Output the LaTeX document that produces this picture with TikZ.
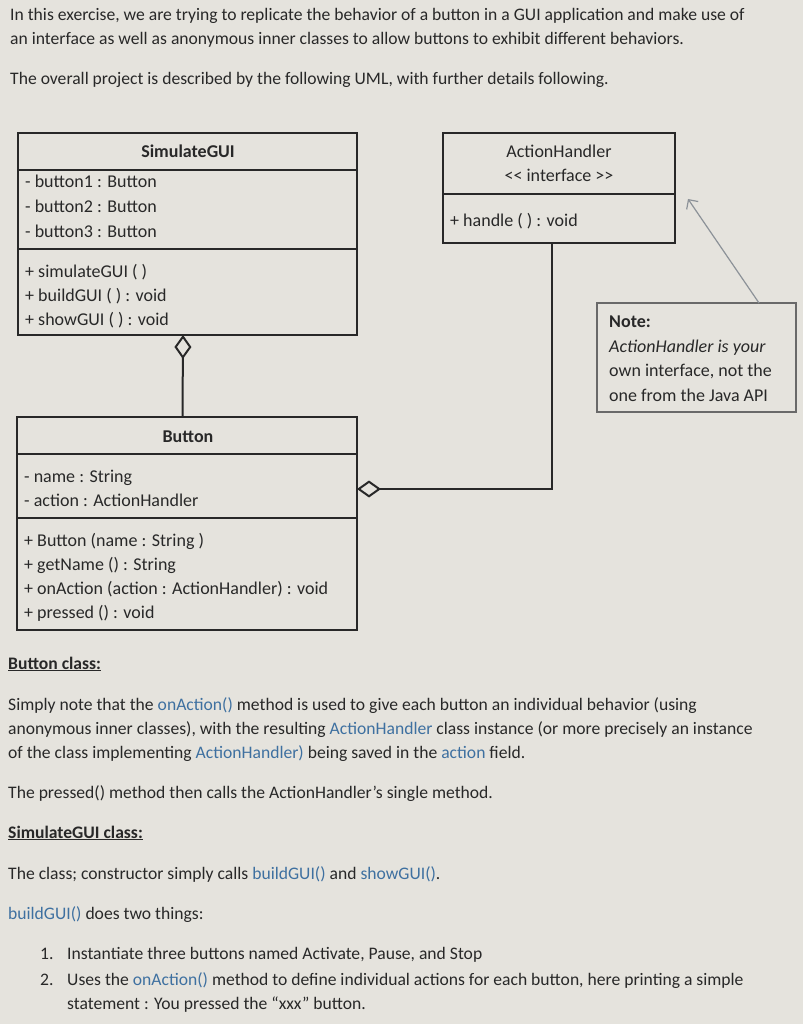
\documentclass[tikz,border=0pt]{standalone}
\usepackage{fontspec}
\setmainfont{Carlito}
\usetikzlibrary{arrows.meta}
\definecolor{bg}{RGB}{229,227,221}
\definecolor{ink}{RGB}{40,40,40}
\definecolor{link}{RGB}{62,112,160}
\definecolor{notegray}{RGB}{105,105,105}
\definecolor{arrowgray}{RGB}{140,146,152}
\begin{document}
\begin{tikzpicture}[x=1pt,y=-1pt,
  txt/.style={anchor=base west, inner sep=0pt, text=ink, font=\fontsize{17.6}{20}\selectfont},
  btxt/.style={txt},
  uml/.style={anchor=base west, inner sep=0pt, text=ink, font=\fontsize{18}{20}\selectfont},
  umlc/.style={uml, anchor=base},
  comp/.style={draw=ink, line width=2pt, rectangle, inner sep=0pt, outer sep=0pt, anchor=north west},
  notebox/.style={draw=notegray, line width=1.2pt, rectangle, inner sep=0pt, outer sep=0pt, anchor=north west},
  link/.style={draw=ink, line width=2pt},
  agg/.style={{Diamond[open,length=24pt,width=17pt,line width=2pt]}-}
]
\fill[bg] (0,0) rectangle (803,1024);
\useasboundingbox (0,0) rectangle (803,1024);

% intro text
\node[txt] (i1) at (10,21) {In this exercise, we are trying to replicate the behavior of a button in a GUI application and make use of};
\node[txt] (i2) at (10,45) {an interface as well as anonymous inner classes to allow buttons to exhibit different behaviors.};
\node[txt] (i3) at (10,85) {The overall project is described by the following UML, with further details following.};

% SimulateGUI
\node[comp, minimum width=339pt, minimum height=37pt] (sgh) at (18,133) {};
\node[comp, minimum width=339pt, minimum height=79pt] (sga) at (18,170) {};
\node[comp, minimum width=339pt, minimum height=86pt] (sgm) at (18,249) {};
\node[umlc, font=\fontsize{18}{20}\selectfont\bfseries] (sgt) at (188,158) {SimulateGUI};
\node[uml] (sg1) at (25,188) {- button1 : Button};
\node[uml] (sg2) at (25,213) {- button2 : Button};
\node[uml] (sg3) at (25,237) {- button3 : Button};
\node[uml] (sg4) at (25,277) {+ simulateGUI ( )};
\node[uml] (sg5) at (25,301) {+ buildGUI ( ) : void};
\node[uml] (sg6) at (25,325) {+ showGUI ( ) : void};

% Button
\node[comp, minimum width=340pt, minimum height=37pt] (bth) at (17,417) {};
\node[comp, minimum width=340pt, minimum height=64pt] (bta) at (17,454) {};
\node[comp, minimum width=340pt, minimum height=112pt] (btm) at (17,518) {};
\node[umlc, font=\fontsize{18}{20}\selectfont\bfseries] (btt) at (188,442) {Button};
\node[uml] (bt1) at (24,482) {- name : String};
\node[uml] (bt2) at (24,506) {- action : ActionHandler};
\node[uml] (bt3) at (24,546) {+ Button (name : String )};
\node[uml] (bt4) at (24,570) {+ getName () : String};
\node[uml] (bt5) at (24,594) {+ onAction (action : ActionHandler) : void};
\node[uml] (bt6) at (24,618) {+ pressed () : void};

% ActionHandler
\node[comp, minimum width=232pt, minimum height=61pt] (ahh) at (443,133) {};
\node[comp, minimum width=232pt, minimum height=49pt] (ahm) at (443,194) {};
\node[umlc] (aht) at (559,158) {ActionHandler};
\node[umlc] (ahs) at (559,182) {{<}{<} interface {>}{>}};
\node[uml] (ah1) at (450,226) {+ handle ( ) : void};

% Note
\node[notebox, minimum width=199pt, minimum height=109pt] (note) at (597,303) {};
\node[uml, font=\fontsize{18}{20}\selectfont\bfseries] (n1) at (609,327) {Note:};
\node[uml, font=\fontsize{18}{20}\selectfont\itshape] (n2) at (609,352) {ActionHandler is your};
\node[uml] (n3) at (609,376) {own interface, not the};
\node[uml] (n4) at (609,401) {one from the Java API};

% connectors
\draw[link, agg] ([xshift=-4.5pt]sgm.south) -- ([xshift=-4.5pt]bth.north);
\draw[link, agg] ([yshift=-3pt]bta.east) -| ([xshift=-7pt]ahm.south);
\coordinate (tip) at (688,199);
\draw[arrowgray, line width=1.2pt, -{Straight Barb[length=7pt,width=14pt,line width=1.2pt]}] ([xshift=62.5pt]note.north) -- (tip);

% lower text
\node[btxt] (h1) at (8,669) {\bfseries\underline{Button class:}};
\node[btxt] (p1) at (8,710) {Simply note that the \textcolor{link}{onAction()} method is used to give each button an individual behavior (using};
\node[btxt] (p2) at (8,734) {anonymous inner classes), with the resulting \textcolor{link}{ActionHandler} class instance (or more precisely an instance};
\node[btxt] (p3) at (8,758) {of the class implementing \textcolor{link}{ActionHandler)} being saved in the \textcolor{link}{action} field.};
\node[btxt] (p4) at (8,798) {The pressed() method then calls the ActionHandler’s single method.};
\node[btxt] (h2) at (8,838) {\bfseries\underline{SimulateGUI class:}};
\node[btxt] (p5) at (8,879) {The class; constructor simply calls \textcolor{link}{buildGUI()} and \textcolor{link}{showGUI()}.};
\node[btxt] (p6) at (8,919) {\textcolor{link}{buildGUI()} does two things:};
\node[btxt] (l1n) at (40,959) {1.};
\node[btxt] (l1) at (67,959) {Instantiate three buttons named Activate, Pause, and Stop};
\node[btxt] (l2n) at (40,985) {2.};
\node[btxt] (l2) at (67,985) {Uses the \textcolor{link}{onAction()} method to define individual actions for each button, here printing a simple};
\node[btxt] (l3) at (67,1009) {statement : You pressed the “xxx” button.};
\end{tikzpicture}
\end{document}
